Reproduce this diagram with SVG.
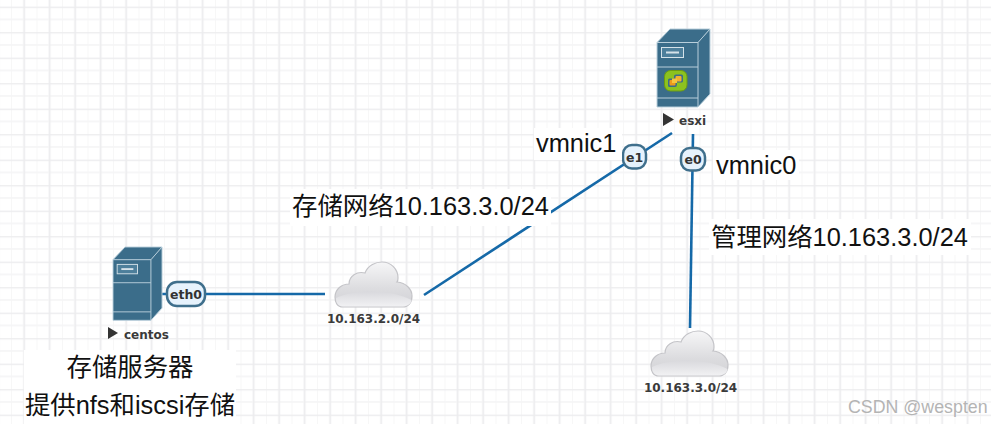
<svg xmlns="http://www.w3.org/2000/svg" width="991" height="424" viewBox="0 0 991 424">
<style>
.lbl{font-family:"Liberation Sans","Noto Sans CJK SC",sans-serif;font-size:25.400px;fill:#111}
.cap{font-family:"DejaVu Sans",sans-serif;font-weight:700;font-size:12px;fill:#3a3a3a}
.cl{font-family:"DejaVu Sans",sans-serif;font-weight:700;font-size:12px;fill:#3a3a3a;text-anchor:middle}
.port{fill:#e6f2fc;stroke:#3f6f8c;stroke-width:2.500}
.ptx{font-family:"DejaVu Sans",sans-serif;font-weight:700;font-size:12.500px;fill:#333;text-anchor:middle}
.wire{stroke:#1569a8;stroke-width:2.600;fill:none}
.body{fill:#3b6d8a}
.edge{fill:none;stroke:#b9cfdb;stroke-width:1}
.bg{fill:#fff}
</style>
<defs>
<pattern id="grid" x="11" y="6.700" width="25.500" height="25.500" patternUnits="userSpaceOnUse">
<path d="M12.750 0V25.500M0 12.750H25.500" stroke="#f4f4f5" stroke-width="1.600" fill="none"/>
<path d="M0 0V25.500M0 0H25.500" stroke="#f5f5f6" stroke-width="1.600" fill="none"/>
</pattern>
<pattern id="gridM" x="23.700" y="6.700" width="25.500" height="25.500" patternUnits="userSpaceOnUse">
<path d="M0.500 0V25.500M0 0.500H25.500" stroke="#ececee" stroke-width="1.600" fill="none"/>
</pattern>
<linearGradient id="cg" x1="0" y1="0" x2="0" y2="1">
<stop offset="0" stop-color="#f6f6f7"/><stop offset=".6" stop-color="#dcdcdf"/><stop offset="1" stop-color="#d2d2d6"/>
</linearGradient>
<linearGradient id="cl2" x1="0" y1="0" x2="0" y2="1">
<stop offset="0" stop-color="#d9d9dd"/><stop offset="1" stop-color="#f1f1f3"/>
</linearGradient>
<g id="cloud">
<path d="M8 45C2 45 0 40 0 35C0 27 7 22 14 22C14 14 22 9 30 11C33 3 41 0 47 0C56 0 63 7 63 16C63 18 63 19 62 20C71 21 77 27 77 34C77 41 73 45 68 45Z" fill="url(#cg)" stroke="#c4c4c8" stroke-width="1.200"/>
<path d="M1 36C20 27 55 27 76.500 38C76 42 73 44 68 44.400H8C3 44.400 1 41 1 36Z" fill="url(#cl2)"/>
</g>
<g id="server">
<path class="body" d="M0 13.500L13 0H53L41 13.500Z"/>
<path class="body" d="M41 13.500L53 0V65L41 78Z"/>
<path class="body" d="M0 13.500H41V78H0Z"/>
<path class="edge" d="M0 13.500L13 0H53V65L41 78H0ZM0 13.500H41V78M41 13.500L53 0M0 38H41M0 69H41"/>
<rect x="4.500" y="18.500" width="22" height="10" fill="#4d7f9b" stroke="#d5e2e9" stroke-width="1"/>
<rect x="9" y="22.500" width="13" height="2" fill="#d5e2e9"/>
</g>
</defs>
<rect width="991" height="424" fill="#fff"/>
<rect width="991" height="424" fill="url(#grid)"/>
<rect width="991" height="424" fill="url(#gridM)"/>
<g id="connectors">
<path class="wire" d="M162 294H325"/>
<path class="wire" d="M424 295L672 133"/>
<path class="wire" d="M693 134L690 328"/>
</g>
<g id="centos">
<use href="#server" transform="translate(113 247) scale(.925 .94)"/>
<path d="M108 327L118 333L108 339Z" fill="#333"/>
<text class="cap" x="124" y="338.500">centos</text>
</g>
<g id="port-eth0">
<rect class="port" x="167" y="282" width="38" height="24" rx="10"/>
<text class="ptx" x="186" y="298.500">eth0</text>
</g>
<g id="esxi">
<use href="#server" x="657" y="29"/>
<rect x="664.500" y="70.500" width="22.500" height="20.500" rx="6" fill="#8cc21f" stroke="#6d9c12"/>
<path d="M676 74.500H681.500Q683 74.500 683 76V81Q683 82.500 681.500 82.500H677V84.500Q677 87 675 87H669.500Q668 87 668 85.500V80Q668 78.500 669.500 78.500H674V76Q674 74.500 676 74.500Z" fill="#3b6d8a"/>
<rect x="675.500" y="76" width="6" height="5.500" rx="1" fill="#f4b030"/>
<rect x="669.500" y="80" width="6" height="5.500" rx="1" fill="#ee9a1a"/>
<rect x="672" y="78.500" width="5" height="4.500" fill="#f7c53c"/>
<path d="M663 113L674 119.500L663 126Z" fill="#333"/>
<text class="cap" x="679" y="124.500">esxi</text>
</g>
<g id="port-e1">
<rect class="port" x="623" y="145" width="23" height="23.500" rx="9"/>
<text class="ptx" x="634.500" y="161.500">e1</text>
</g>
<g id="port-e0">
<rect class="port" x="681" y="148" width="24" height="22.500" rx="9"/>
<text class="ptx" x="693" y="164">e0</text>
</g>
<g id="net2">
<use href="#cloud" x="335" y="262"/>
<text class="cl" x="373.500" y="322.500">10.163.2.0/24</text>
</g>
<g id="net3">
<use href="#cloud" x="651" y="331"/>
<text class="cl" x="690.500" y="391.500">10.163.3.0/24</text>
</g>
<g id="labels">
<rect class="bg" x="534" y="128" width="88" height="32"/>
<text class="lbl" x="536" y="151.500">vmnic1</text>
<rect class="bg" x="290" y="189" width="261" height="37"/>
<text class="lbl" x="292" y="215">存储网络10.163.3.0/24</text>
<rect class="bg" x="713" y="150" width="86" height="30"/>
<text class="lbl" x="716" y="173.500">vmnic0</text>
<rect class="bg" x="709" y="219" width="262" height="36"/>
<text class="lbl" x="711" y="246">管理网络10.163.3.0/24</text>
<rect class="bg" x="24" y="350" width="212" height="74"/>
<text class="lbl" x="130" y="376" text-anchor="middle">存储服务器</text>
<text class="lbl" x="130" y="414" text-anchor="middle">提供nfs和iscsi存储</text>
</g>
<text x="848" y="413" font-family="Liberation Sans, sans-serif" font-size="17.800" fill="#b4b4b4">CSDN @wespten</text>
</svg>
